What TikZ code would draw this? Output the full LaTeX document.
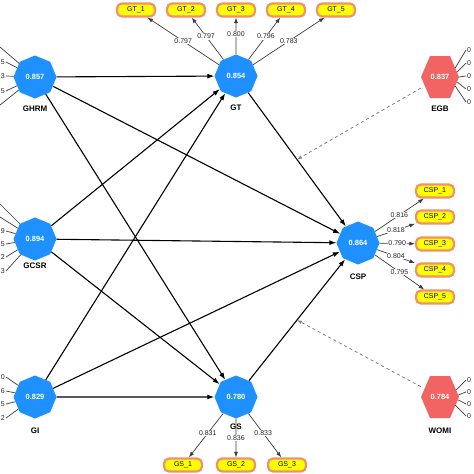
\documentclass[tikz,border=0pt]{standalone}
\usepackage{fontspec}
\setmainfont{Liberation Sans}
\usetikzlibrary{arrows.meta,shapes.geometric,calc}
\definecolor{lvblue}{RGB}{30,144,255}
\definecolor{hexred}{RGB}{242,100,100}
\definecolor{boxyel}{RGB}{255,255,0}
\definecolor{boxbrd}{RGB}{240,145,105}
\definecolor{loadgray}{RGB}{60,60,60}
\begin{document}
\begin{tikzpicture}[x=1pt,y=-1pt,
 octa/.style={regular polygon, regular polygon sides=8, shape border rotate=22.5, minimum size=43pt, inner sep=0pt, fill=lvblue, text=white, font=\fontsize{7.5}{8}\selectfont\bfseries},
 hexa/.style={minimum width=38pt, minimum height=42pt, inner sep=0pt, text=white, font=\fontsize{7.5}{8}\selectfont\bfseries},
 indbox/.style={rounded corners=5pt, draw=boxbrd, line width=2.2pt, fill=boxyel, minimum width=38pt, minimum height=13pt, inner sep=0pt, font=\fontsize{7}{8}\selectfont},
 lvname/.style={font=\fontsize{8}{9}\selectfont\bfseries, inner sep=0.5pt},
 structarrow/.style={line width=1.1pt, -{Latex[length=7pt,width=5pt]}},
 loadline/.style={draw=loadgray, line width=0.7pt, -{Latex[length=5.5pt,width=4pt]}},
 plainline/.style={draw=loadgray, line width=0.7pt},
 loadlbl/.style={fill=white, inner sep=0.6pt, font=\fontsize{7}{8}\selectfont, text=black!85},
 modline/.style={draw=gray, dashed, line width=0.8pt, -{Latex[length=5pt,width=3.5pt]}},
 frag/.style={font=\fontsize{7}{8}\selectfont, inner sep=0pt, text=black!85},
]
\useasboundingbox[fill=white] (0,0) rectangle (474,474);

% ---------- latent variables ----------
\node[octa] (GHRM) at (35,77) {0.857};
\node[octa] (GCSR) at (35,239) {0.894};
\node[octa] (GI) at (35,397) {0.829};
\node[octa] (GT) at (236,76) {0.854};
\node[octa] (GS) at (236,397) {0.780};
\node[octa] (CSP) at (358,243) {0.864};

\coordinate (egbc) at (440,77);
\fill[hexred] ($(egbc)+(-19,0)$) -- ($(egbc)+(-10,-21)$) -- ($(egbc)+(10,-21)$) -- ($(egbc)+(19,0)$) -- ($(egbc)+(10,21)$) -- ($(egbc)+(-10,21)$) -- cycle;
\node[hexa] (EGB) at (egbc) {0.837};
\coordinate (womic) at (440,397);
\fill[hexred] ($(womic)+(-19,0)$) -- ($(womic)+(-10,-21)$) -- ($(womic)+(10,-21)$) -- ($(womic)+(19,0)$) -- ($(womic)+(10,21)$) -- ($(womic)+(-10,21)$) -- cycle;
\node[hexa] (WOMI) at (womic) {0.784};

% names
\node[lvname] (nGHRM) at (35,109) {GHRM};
\node[lvname] (nGCSR) at (35,266) {GCSR};
\node[lvname] (nGI) at (35,431) {GI};
\node[lvname] (nGT) at (236,108) {GT};
\node[lvname] (nGS) at (236,427) {GS};
\node[lvname] (nCSP) at (358,277) {CSP};
\node[lvname] (nEGB) at (440,109) {EGB};
\node[lvname] (nWOMI) at (440,431) {WOMI};

% ---------- indicators ----------
\node[indbox] (GT1) at (136,10) {GT\_1};
\node[indbox] (GT2) at (186,10) {GT\_2};
\node[indbox] (GT3) at (236,10) {GT\_3};
\node[indbox] (GT4) at (286,10) {GT\_4};
\node[indbox] (GT5) at (336,10) {GT\_5};
\node[indbox] (GS1) at (183,465) {GS\_1};
\node[indbox] (GS2) at (236,465) {GS\_2};
\node[indbox] (GS3) at (287,465) {GS\_3};
\node[indbox] (CSP1) at (435,191) {CSP\_1};
\node[indbox] (CSP2) at (435,217) {CSP\_2};
\node[indbox] (CSP3) at (435,244) {CSP\_3};
\node[indbox] (CSP4) at (435,270) {CSP\_4};
\node[indbox] (CSP5) at (435,297) {CSP\_5};

\draw[loadline] (GT) -- node[loadlbl,pos=0.5]{0.797} (GT1);
\draw[loadline] (GT) -- node[loadlbl,pos=0.55]{0.797} (GT2);
\draw[loadline] (GT) -- node[loadlbl,pos=0.55]{0.800} (GT3);
\draw[loadline] (GT) -- node[loadlbl,pos=0.55]{0.796} (GT4);
\draw[loadline] (GT) -- node[loadlbl,pos=0.5]{0.783} (GT5);
\draw[loadline] (GS) -- node[loadlbl,pos=0.45]{0.831} (GS1);
\draw[loadline] (GS) -- node[loadlbl,pos=0.5]{0.836} (GS2);
\draw[loadline] (GS) -- node[loadlbl,pos=0.45]{0.833} (GS3);
\draw[loadline] (CSP) -- node[loadlbl,pos=0.5]{0.816} (CSP1);
\draw[loadline] (CSP) -- node[loadlbl,pos=0.5]{0.818} (CSP2);
\draw[loadline] (CSP) -- node[loadlbl,pos=0.5]{0.790} (CSP3);
\draw[loadline] (CSP) -- node[loadlbl,pos=0.5]{0.804} (CSP4);
\draw[loadline] (CSP) -- node[loadlbl,pos=0.5]{0.795} (CSP5);

% ---------- cut-off indicator lines at the edges ----------
\coordinate (ha1) at (0,47);
\coordinate (ha2) at (6,62);
\coordinate (ha3) at (6,76);
\coordinate (ha4) at (6,91);
\coordinate (ha5) at (0,105);
\foreach \c in {ha1,ha2,ha3,ha4,ha5} \draw[plainline] (GHRM) -- (\c);
\node[frag,anchor=east] (fh2) at (5,62) {5};
\node[frag,anchor=east] (fh3) at (5,76) {3};
\node[frag,anchor=east] (fh4) at (5,91) {5};

\coordinate (ca1) at (0,204);
\coordinate (ca2) at (0,217);
\coordinate (ca3) at (6,231);
\coordinate (ca4) at (6,244);
\coordinate (ca5) at (6,257);
\coordinate (ca6) at (6,271);
\foreach \c in {ca1,ca2,ca3,ca4,ca5,ca6} \draw[plainline] (GCSR) -- (\c);
\node[frag,anchor=east] (fc3) at (5,231) {9};
\node[frag,anchor=east] (fc4) at (5,244) {5};
\node[frag,anchor=east] (fc5) at (5,257) {2};
\node[frag,anchor=east] (fc6) at (5,271) {3};

\coordinate (ia1) at (6,377);
\coordinate (ia2) at (6,391);
\coordinate (ia3) at (6,404);
\coordinate (ia4) at (6,418);
\foreach \c in {ia1,ia2,ia3,ia4} \draw[plainline] (GI) -- (\c);
\node[frag,anchor=east] (fi1) at (5,377) {0};
\node[frag,anchor=east] (fi2) at (5,391) {6};
\node[frag,anchor=east] (fi3) at (5,404) {5};
\node[frag,anchor=east] (fi4) at (5,418) {2};

\foreach \y/\dx/\dy in {50/-4/-9,63/-2/-5,76/0/0,89/-2/5,102/-4/9} {
  \draw[plainline] ([shift={(\dx,\dy)}]EGB.east) -- (466,\y);
  \node[frag,anchor=west] at (467,\y) {0};
}
\foreach \y/\dx/\dy in {380/-3/-7,392/-1/-2,404/-1/3,416/-4/8} {
  \draw[plainline] ([shift={(\dx,\dy)}]WOMI.east) -- (466,\y);
  \node[frag,anchor=west] at (467,\y) {0};
}

% ---------- structural paths ----------
\draw[structarrow] (GHRM) -- (GT);
\draw[structarrow] (GHRM) -- (CSP);
\draw[structarrow] (GHRM) -- (GS);
\draw[structarrow] (GCSR) -- (GT);
\draw[structarrow] (GCSR) -- (CSP);
\draw[structarrow] (GCSR) -- (GS);
\draw[structarrow] (GI) -- (GT);
\draw[structarrow] (GI) -- (CSP);
\draw[structarrow] (GI) -- (GS);
\draw[structarrow] (GT) -- (CSP);
\draw[structarrow] (GS) -- (CSP);

% ---------- moderating effects ----------
\coordinate (m1) at ($(GT)!0.5!(CSP)$);
\coordinate (m2) at ($(GS)!0.5!(CSP)$);
\draw[modline] (EGB) -- (m1);
\draw[modline] (WOMI) -- (m2);
\end{tikzpicture}
\end{document}
